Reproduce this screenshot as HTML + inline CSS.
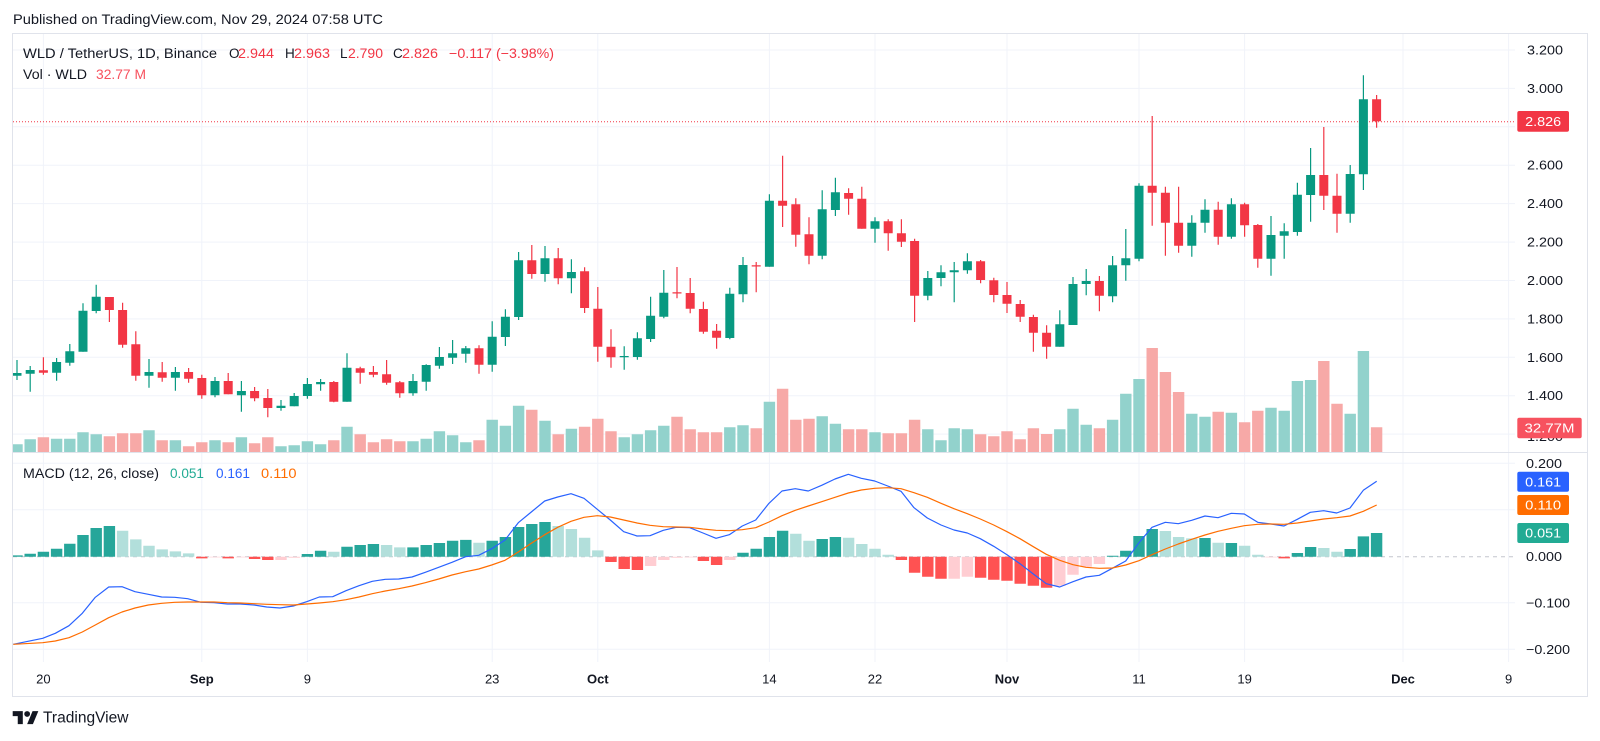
<!DOCTYPE html>
<html><head><meta charset="utf-8"><style>
html,body{margin:0;padding:0;background:#fff;}
svg{display:block;}
text{font-family:"Liberation Sans",Arial,sans-serif;}
</style></head><body>
<svg width="1600" height="741" viewBox="0 0 1600 741" xmlns="http://www.w3.org/2000/svg">
<defs><clipPath id="pl"><rect x="13" y="34" width="1502" height="628"/></clipPath></defs>
<rect width="1600" height="741" fill="#fff"/>
<text x="13" y="24" font-size="14" fill="#131722" textLength="370" lengthAdjust="spacingAndGlyphs">Published on TradingView.com, Nov 29, 2024 07:58 UTC</text>
<rect x="12.5" y="33.5" width="1575" height="663" fill="none" stroke="#e0e3eb"/>
<g stroke="#f0f3fa" stroke-width="1">
<path d="M43.4 34V662M201.8 34V662M307.4 34V662M492.2 34V662M597.8 34V662M769.4 34V662M875 34V662M1007 34V662M1139 34V662M1244.6 34V662M1403 34V662M1508.6 34V662"/>
<path d="M13 50H1515M13 88.4H1515M13 126.8H1515M13 165.2H1515M13 203.6H1515M13 242.1H1515M13 280.5H1515M13 318.9H1515M13 357.3H1515M13 395.7H1515M13 434.1H1515"/>
<path d="M13 463.3H1515M13 509.8H1515M13 602.8H1515M13 649.3H1515"/>
</g>
<path d="M13 556.7H1515" stroke="#c3c6ce" stroke-width="1" stroke-dasharray="4 4"/>
<path d="M12.5 452.5H1587.5" stroke="#e0e3eb" stroke-width="1"/>
<g clip-path="url(#pl)" fill="none">
<path stroke="#92d2cc" stroke-width="11.4" d="M17 452V444.3 M30.2 452V439.3 M56.6 452V438.7 M69.8 452V438.7 M83 452V432.3 M96.2 452V434.3 M149 452V430.3 M175.4 452V440.3 M215 452V440.3 M241.4 452V437.3 M281 452V446.3 M294.2 452V445.3 M307.4 452V441.3 M320.6 452V444.3 M347 452V426.7 M413 452V441.3 M426.2 452V438.7 M439.4 452V431.3 M452.6 452V435.3 M465.8 452V442.3 M492.2 452V419.7 M505.4 452V425.7 M518.6 452V405.7 M545 452V420.7 M571.4 452V428.7 M624.2 452V437.3 M637.4 452V434.3 M650.6 452V430.3 M663.8 452V425.7 M729.8 452V427.3 M743 452V425.3 M769.4 452V401.7 M822.2 452V416.3 M835.4 452V423.7 M875 452V432.3 M927.8 452V429.3 M941 452V440.3 M954.2 452V428.3 M967.4 452V429.3 M1059.8 452V429.3 M1073 452V408.7 M1086.2 452V424.7 M1112.6 452V419.7 M1125.8 452V393.7 M1139 452V379 M1191.8 452V413.7 M1205 452V416.7 M1231.4 452V412.7 M1271 452V407.7 M1284.2 452V410.7 M1297.4 452V381 M1310.6 452V380 M1350.2 452V413.7 M1363.4 452V351"/>
<path stroke="#f7a9a7" stroke-width="11.4" d="M43.4 452V437.3 M109.4 452V436.3 M122.6 452V433.3 M135.8 452V433.3 M162.2 452V440.3 M188.6 452V446.3 M201.8 452V442.3 M228.2 452V442.3 M254.6 452V443.3 M267.8 452V437.3 M333.8 452V440.3 M360.2 452V434.3 M373.4 452V442.3 M386.6 452V439.3 M399.8 452V441.3 M479 452V440.3 M531.8 452V409.7 M558.2 452V434.3 M584.6 452V426.7 M597.8 452V418.7 M611 452V431.3 M677 452V416.7 M690.2 452V429.3 M703.4 452V432.3 M716.6 452V432.3 M756.2 452V428.3 M782.6 452V388.7 M795.8 452V419.7 M809 452V418.7 M848.6 452V429.3 M861.8 452V429.3 M888.2 452V433.3 M901.4 452V433.3 M914.6 452V419.7 M980.6 452V434.3 M993.8 452V436.3 M1007 452V431.3 M1020.2 452V439.3 M1033.4 452V428.3 M1046.6 452V434 M1099.4 452V428.3 M1152.2 452V348 M1165.4 452V372 M1178.6 452V392 M1218.2 452V411.7 M1244.6 452V422.3 M1257.8 452V410.7 M1323.8 452V361 M1337 452V403.7 M1376.6 452V427.3"/>
<path d="M13 121.8H1515" stroke="#f23645" stroke-width="1" stroke-dasharray="1 2"/>
<path stroke="#089981" stroke-width="1.2" d="M17 360V380 M30.2 366V391.7 M56.6 358V380.7 M69.8 344V365.7 M83 303.3V351.7 M96.2 284.7V313.3 M149 359V387.7 M175.4 367V390.7 M215 377V397.3 M241.4 381V411.7 M281 400V410.7 M294.2 393V406.3 M307.4 378V398.7 M320.6 379V390.7 M347 353.3V401.7 M413 374V395.7 M426.2 364.3V390.7 M439.4 347V368.7 M452.6 340V364 M465.8 346V362.7 M492.2 321.3V371.7 M505.4 309.3V346 M518.6 252V320 M545 246V281.7 M571.4 259.3V293.3 M624.2 346.3V369.7 M637.4 332.3V359.7 M650.6 296.7V342 M663.8 270V318.3 M729.8 287.7V339.3 M743 257V302.3 M769.4 194.3V266.7 M822.2 190.3V259.3 M835.4 177.7V216 M875 217.3V242.7 M927.8 271V300.3 M941 265.3V286.3 M954.2 262V302.3 M967.4 253.3V273.7 M1059.8 310.3V346.7 M1073 277V325 M1086.2 269V295.3 M1112.6 256V302.3 M1125.8 229V280.7 M1139 183.3V261.3 M1191.8 215.3V256.7 M1205 199.3V232.7 M1231.4 198.3V238.7 M1271 216V275.7 M1284.2 223.3V258.7 M1297.4 182.7V235.7 M1310.6 148V221.7 M1350.2 165V222.7 M1363.4 75.3V190"/>
<path stroke="#089981" stroke-width="9" d="M17 373V375.7 M30.2 370V373.7 M56.6 362V372.7 M69.8 351.3V362.7 M83 310.7V351.7 M96.2 296.7V311 M149 372V375.7 M175.4 372V377.7 M215 381V395.3 M241.4 391V395.3 M281 405.7V408 M294.2 396V406.3 M307.4 384V396 M320.6 382V384.3 M347 367.7V401.7 M413 381V393.3 M426.2 365V381.7 M439.4 357V365.7 M452.6 353.3V357.7 M465.8 348.3V353.7 M492.2 336.7V364.7 M505.4 316.7V337 M518.6 260.3V317 M545 258.3V274 M571.4 272V278.3 M624.2 356V357.2 M637.4 338.3V357 M650.6 315.7V339 M663.8 292.7V316.7 M729.8 293.7V338 M743 265V294.3 M769.4 200.7V266.7 M822.2 209.3V255.7 M835.4 192.3V210 M875 221.3V228.7 M927.8 278V295.7 M941 272.3V278 M954.2 270.3V272.3 M967.4 261.3V270.3 M1059.8 324.3V346.7 M1073 284V325 M1086.2 281V284 M1112.6 265.3V296.3 M1125.8 258.3V265.3 M1139 185.7V258.7 M1191.8 222.7V245.7 M1205 209.7V222.7 M1231.4 204.3V236.7 M1271 235V258.7 M1284.2 231.3V235.7 M1297.4 194.7V232 M1310.6 175V195 M1350.2 174V213.7 M1363.4 99.3V174.3"/>
<path stroke="#f23645" stroke-width="1.2" d="M43.4 357.3V374.7 M109.4 297V322 M122.6 302.7V347.7 M135.8 331.3V380.7 M162.2 362V381.7 M188.6 368V382.7 M201.8 374.7V398.7 M228.2 373V394.3 M254.6 387V401.3 M267.8 389V417.3 M333.8 381V402.3 M360.2 366.7V383.7 M373.4 366V377.3 M386.6 360V384.7 M399.8 381V397.7 M479 345.3V373.7 M531.8 245V278.7 M558.2 248V284.3 M584.6 267.3V313 M597.8 287V361.7 M611 329.3V367.7 M677 267V298.3 M690.2 278V313.3 M703.4 301.7V333.7 M716.6 324V348.7 M756.2 262V292.3 M782.6 155.7V227 M795.8 198.3V246.7 M809 217.3V264.3 M848.6 188.3V214.7 M861.8 186.7V228.7 M888.2 219.3V250.7 M901.4 219.3V247 M914.6 238.7V322 M980.6 260V283.3 M993.8 277.7V302.3 M1007 282V313 M1020.2 300V322 M1033.4 314.7V351.7 M1046.6 325.3V358.7 M1099.4 276V311.3 M1152.2 116V225.7 M1165.4 186.7V255.7 M1178.6 186.7V252.7 M1218.2 201.7V244.7 M1244.6 202.7V236.7 M1257.8 224V267.7 M1323.8 127V210 M1337 173.7V232.7 M1376.6 95V127.7"/>
<path stroke="#f23645" stroke-width="9" d="M43.4 370.3V372.7 M109.4 297V310 M122.6 310V344.7 M135.8 344.3V375.7 M162.2 372.3V377.7 M188.6 372V378.7 M201.8 378V395.3 M228.2 381V394.3 M254.6 391V398.3 M267.8 398V408 M333.8 382V401.7 M360.2 368.3V372.7 M373.4 372V374.7 M386.6 374.3V382.7 M399.8 382.3V393.3 M479 348.3V364.7 M531.8 260.3V274 M558.2 258.3V278.3 M584.6 271.3V308 M597.8 308.7V346.7 M611 346.7V357.3 M677 292.3V293.5 M690.2 293V308.7 M703.4 309V331.7 M716.6 330.7V337.7 M756.2 265.3V266.5 M782.6 200.7V205.7 M795.8 204.3V234.7 M809 234.3V255.7 M848.6 193V198.7 M861.8 198.7V228.7 M888.2 221.3V233.3 M901.4 233.3V241.7 M914.6 241V295.7 M980.6 261.3V280 M993.8 280.3V295 M1007 295V303.7 M1020.2 304V316.7 M1033.4 317V332.7 M1046.6 332.7V346.7 M1099.4 281V295.7 M1152.2 185.7V192.7 M1165.4 192.7V222.7 M1178.6 222.7V245.7 M1218.2 209.7V236.7 M1244.6 204.3V225.3 M1257.8 225V258.7 M1323.8 175V195.7 M1337 195.7V213.7 M1376.6 99.3V121.3"/>
<path stroke="#26a69a" stroke-width="11.4" d="M17 556.7V555.4 M30.2 556.7V553.7 M43.4 556.7V551.7 M56.6 556.7V548.7 M69.8 556.7V543.7 M83 556.7V535 M96.2 556.7V528 M109.4 556.7V526 M307.4 556.7V554 M320.6 556.7V550.7 M347 556.7V546.7 M360.2 556.7V545 M373.4 556.7V544 M413 556.7V547.4 M426.2 556.7V545 M439.4 556.7V543 M452.6 556.7V540.7 M465.8 556.7V539.9 M492.2 556.7V540.7 M505.4 556.7V537 M518.6 556.7V527 M531.8 556.7V524 M545 556.7V522 M743 556.7V552.7 M756.2 556.7V548.7 M769.4 556.7V537 M782.6 556.7V530.7 M822.2 556.7V539 M835.4 556.7V537 M1112.6 556.7V555.7 M1125.8 556.7V550.7 M1139 556.7V536 M1152.2 556.7V529 M1205 556.7V538 M1231.4 556.7V543 M1297.4 556.7V553 M1310.6 556.7V547 M1350.2 556.7V549 M1363.4 556.7V536.4 M1376.6 556.7V533"/>
<path stroke="#b2dfdb" stroke-width="11.4" d="M122.6 556.7V530.7 M135.8 556.7V539.4 M149 556.7V545.7 M162.2 556.7V549.4 M175.4 556.7V551.4 M188.6 556.7V553.4 M333.8 556.7V551.7 M386.6 556.7V545 M399.8 556.7V547.4 M479 556.7V542.7 M558.2 556.7V526 M571.4 556.7V529 M584.6 556.7V537.7 M597.8 556.7V550.4 M795.8 556.7V533.7 M809 556.7V540.7 M848.6 556.7V537.7 M861.8 556.7V544 M875 556.7V548.7 M888.2 556.7V554.7 M1165.4 556.7V531 M1178.6 556.7V537 M1191.8 556.7V538.4 M1218.2 556.7V542.7 M1244.6 556.7V545.7 M1257.8 556.7V554.7 M1323.8 556.7V548 M1337 556.7V551.7"/>
<path stroke="#ff5252" stroke-width="11.4" d="M201.8 556.7V558.4 M228.2 556.7V558.4 M254.6 556.7V559 M267.8 556.7V560 M611 556.7V562 M624.2 556.7V569 M637.4 556.7V570 M703.4 556.7V561 M716.6 556.7V565 M901.4 556.7V560 M914.6 556.7V572.7 M927.8 556.7V576.7 M941 556.7V578.7 M980.6 556.7V577.7 M993.8 556.7V579.7 M1007 556.7V580.7 M1020.2 556.7V583.7 M1033.4 556.7V585.7 M1046.6 556.7V587.7 M1284.2 556.7V558.4"/>
<path stroke="#ffcdd2" stroke-width="11.4" d="M215 556.7V557.4 M241.4 556.7V557.4 M281 556.7V560 M294.2 556.7V557.7 M650.6 556.7V566 M663.8 556.7V560 M677 556.7V557.7 M690.2 556.7V557.4 M729.8 556.7V560 M954.2 556.7V578.7 M967.4 556.7V576.7 M1059.8 556.7V585.7 M1073 556.7V574.7 M1086.2 556.7V566.7 M1099.4 556.7V564 M1271 556.7V557.4"/>
<polyline fill="none" stroke="#2962ff" stroke-width="1.2" stroke-linejoin="round" points="13.3,644.3 42.7,638.3 55.3,633.3 69,625.7 82.3,613.3 95.3,597.3 108.7,587 122,586.7 135,591.7 148.3,594.3 161.7,597 174.7,597.3 187.7,598.7 201,602.3 214,602.7 227.3,604 240.3,604 254,605 266.7,607 280,608 293.3,606 306.7,601.7 319.3,597 332.7,596.7 346,590.7 359,585.7 372.3,581.3 385.3,579.3 398.7,579 412,577 425.3,572.3 438.7,567.3 452,562.3 465.7,556.7 478.7,555.3 491.7,548.7 505,540 518.3,522.7 531.3,512 544.7,501 557.7,497 571,493.7 584,498.3 597.3,509.3 610.3,520 623.7,531.7 637,536 650,535.7 663.3,530.3 676.3,527.3 689.7,527.7 703,533 716,538.3 729.3,534.7 742.3,526 755.7,520 769,503.3 782,491 795.3,488.7 808.3,491 821.7,485.3 835,479 848.3,474.3 861.3,478.3 874.7,481 887.7,486 901,491.3 914,507.7 927.3,518 941,525 954,530 967.3,533 980.3,538.7 993.7,546.3 1007,554.7 1020,563.7 1033.3,574 1046.3,583.7 1059.7,587 1073,581.7 1086,577 1099.3,575.3 1112.3,568.3 1125.7,561 1139,542.7 1152,527.3 1165.3,522.3 1178.3,523.7 1191.7,520.3 1205,516 1218,517.7 1231.3,513.3 1244.3,514 1257.7,522.3 1271,524 1284,526 1297.3,519.3 1310.3,512.3 1323.7,510.7 1336.7,513 1350,508 1363.3,490.3 1376.7,481.3"/>
<polyline fill="none" stroke="#ff6d00" stroke-width="1.2" stroke-linejoin="round" points="13.3,644.3 42.7,642.7 55.3,641 69,637.7 82.3,632 95.3,625 108.7,617.7 122,612 135,608 148.3,605 161.7,603.3 174.7,602.3 187.7,602 201,602 214,602 227.3,602.7 240.3,603 254,603.7 266.7,604.3 280,604.7 293.3,605 306.7,604 319.3,603 332.7,601.7 346,599.7 359,597 372.3,593.7 385.3,591 398.7,588.7 412,586 425.3,582.7 438.7,579 452,575 465.7,571.7 478.7,569 491.7,565 505,560.3 518.3,552 531.3,543.3 544.7,534.7 557.7,527.3 571,521.3 584,517.3 597.3,515.7 610.3,517 623.7,520 637,523 650,525.3 663.3,526.7 676.3,527 689.7,527.3 703,529 716,530.3 729.3,530.7 742.3,529.7 755.7,527.7 769,522 782,515.7 795.3,510.3 808.3,506 821.7,501.7 835,497.3 848.3,493 861.3,490 874.7,488.3 887.7,487.7 901,488.7 914,492.7 927.3,497.3 941,503.3 954,508.7 967.3,513.7 980.3,519 993.7,525 1007,531.7 1020,538.7 1033.3,546.7 1046.3,554.3 1059.7,560.3 1073,564.7 1086,567.3 1099.3,568.3 1112.3,568 1125.7,565 1139,560.7 1152,554.7 1165.3,549 1178.3,544 1191.7,539.3 1205,535 1218,531.3 1231.3,528.3 1244.3,525.7 1257.7,524.3 1271,524 1284,524.3 1297.3,523 1310.3,521 1323.7,519 1336.7,517.7 1350,516 1363.3,511.3 1376.7,505"/>
</g>
<!-- legends -->
<g font-size="13.5">
<text x="23" y="58" fill="#131722" textLength="194" lengthAdjust="spacingAndGlyphs">WLD / TetherUS, 1D, Binance</text>
<text x="229" y="58" fill="#131722">O</text>
<text x="238" y="58" fill="#f23645" textLength="36" lengthAdjust="spacingAndGlyphs">2.944</text>
<text x="285" y="58" fill="#131722">H</text>
<text x="294" y="58" fill="#f23645" textLength="36" lengthAdjust="spacingAndGlyphs">2.963</text>
<text x="340" y="58" fill="#131722">L</text>
<text x="348" y="58" fill="#f23645" textLength="35" lengthAdjust="spacingAndGlyphs">2.790</text>
<text x="393" y="58" fill="#131722">C</text>
<text x="402" y="58" fill="#f23645" textLength="36" lengthAdjust="spacingAndGlyphs">2.826</text>
<text x="449" y="58" fill="#f23645" textLength="43" lengthAdjust="spacingAndGlyphs">−0.117</text>
<text x="496" y="58" fill="#f23645" textLength="58" lengthAdjust="spacingAndGlyphs">(−3.98%)</text>
<text x="23" y="79" fill="#131722" textLength="64" lengthAdjust="spacingAndGlyphs">Vol · WLD</text>
<text x="96" y="79" fill="#f7525f" textLength="50" lengthAdjust="spacingAndGlyphs">32.77 M</text>
<text x="23" y="478" fill="#131722" textLength="136" lengthAdjust="spacingAndGlyphs">MACD (12, 26, close)</text>
<text x="170" y="478" fill="#22ab94" textLength="34" lengthAdjust="spacingAndGlyphs">0.051</text>
<text x="216" y="478" fill="#2962ff" textLength="34" lengthAdjust="spacingAndGlyphs">0.161</text>
<text x="261" y="478" fill="#ff6d00" textLength="35.5" lengthAdjust="spacingAndGlyphs">0.110</text>
</g>
<!-- price axis -->
<g font-size="13" fill="#131722">
<text x="1527" y="54.5" textLength="36" lengthAdjust="spacingAndGlyphs">3.200</text>
<text x="1527" y="92.9" textLength="36" lengthAdjust="spacingAndGlyphs">3.000</text>
<text x="1527" y="169.7" textLength="36" lengthAdjust="spacingAndGlyphs">2.600</text>
<text x="1527" y="208.1" textLength="36" lengthAdjust="spacingAndGlyphs">2.400</text>
<text x="1527" y="246.6" textLength="36" lengthAdjust="spacingAndGlyphs">2.200</text>
<text x="1527" y="285" textLength="36" lengthAdjust="spacingAndGlyphs">2.000</text>
<text x="1527" y="323.4" textLength="36" lengthAdjust="spacingAndGlyphs">1.800</text>
<text x="1527" y="361.8" textLength="36" lengthAdjust="spacingAndGlyphs">1.600</text>
<text x="1527" y="400.2" textLength="36" lengthAdjust="spacingAndGlyphs">1.400</text>
<text x="1527" y="441" textLength="36" lengthAdjust="spacingAndGlyphs">1.200</text>
<text x="1526" y="467.8" textLength="36" lengthAdjust="spacingAndGlyphs">0.200</text>
<text x="1526" y="561.2" textLength="36" lengthAdjust="spacingAndGlyphs">0.000</text>
<text x="1526" y="607.3" textLength="44" lengthAdjust="spacingAndGlyphs">−0.100</text>
<text x="1526" y="653.8" textLength="44" lengthAdjust="spacingAndGlyphs">−0.200</text>
</g>
<rect x="1517.3" y="111" width="51.7" height="20.7" rx="2" fill="#f23645"/>
<text x="1543.1" y="126" font-size="13" fill="#fff" text-anchor="middle" textLength="36" lengthAdjust="spacingAndGlyphs">2.826</text>
<rect x="1517.3" y="417.7" width="64.4" height="20.6" rx="2" fill="#f7525f"/>
<text x="1549.5" y="432.6" font-size="13" fill="#fff" text-anchor="middle" textLength="50" lengthAdjust="spacingAndGlyphs">32.77M</text>
<rect x="1517.3" y="471.7" width="51.7" height="20" rx="2" fill="#2962ff"/>
<text x="1543.1" y="486.3" font-size="13" fill="#fff" text-anchor="middle" textLength="36" lengthAdjust="spacingAndGlyphs">0.161</text>
<rect x="1517.3" y="495" width="51.7" height="20" rx="2" fill="#ff6d00"/>
<text x="1543.1" y="509.6" font-size="13" fill="#fff" text-anchor="middle" textLength="36" lengthAdjust="spacingAndGlyphs">0.110</text>
<rect x="1517.3" y="523" width="51.7" height="20" rx="2" fill="#22ab94"/>
<text x="1543.1" y="537.6" font-size="13" fill="#fff" text-anchor="middle" textLength="36" lengthAdjust="spacingAndGlyphs">0.051</text>
<!-- time axis -->
<g font-size="13" fill="#131722" text-anchor="middle">
<text x="43.4" y="683.5">20</text>
<text x="201.8" y="683.5" font-weight="bold">Sep</text>
<text x="307.4" y="683.5">9</text>
<text x="492.2" y="683.5">23</text>
<text x="597.8" y="683.5" font-weight="bold">Oct</text>
<text x="769.4" y="683.5">14</text>
<text x="875" y="683.5">22</text>
<text x="1007" y="683.5" font-weight="bold">Nov</text>
<text x="1139" y="683.5">11</text>
<text x="1244.6" y="683.5">19</text>
<text x="1403" y="683.5" font-weight="bold">Dec</text>
<text x="1508.6" y="683.5">9</text>
</g>
<!-- footer -->
<g transform="translate(12.7,708.2) scale(0.722)" fill="#131722">
<path d="M14 22H7V11H0V4h14v18zM28 22h-8l7.5-18h8L28 22z"/>
<circle cx="20" cy="8" r="4"/>
</g>
<text x="43" y="722.5" font-size="15.5" fill="#131722" textLength="85.5" lengthAdjust="spacingAndGlyphs">TradingView</text>
</svg>
</body></html>
